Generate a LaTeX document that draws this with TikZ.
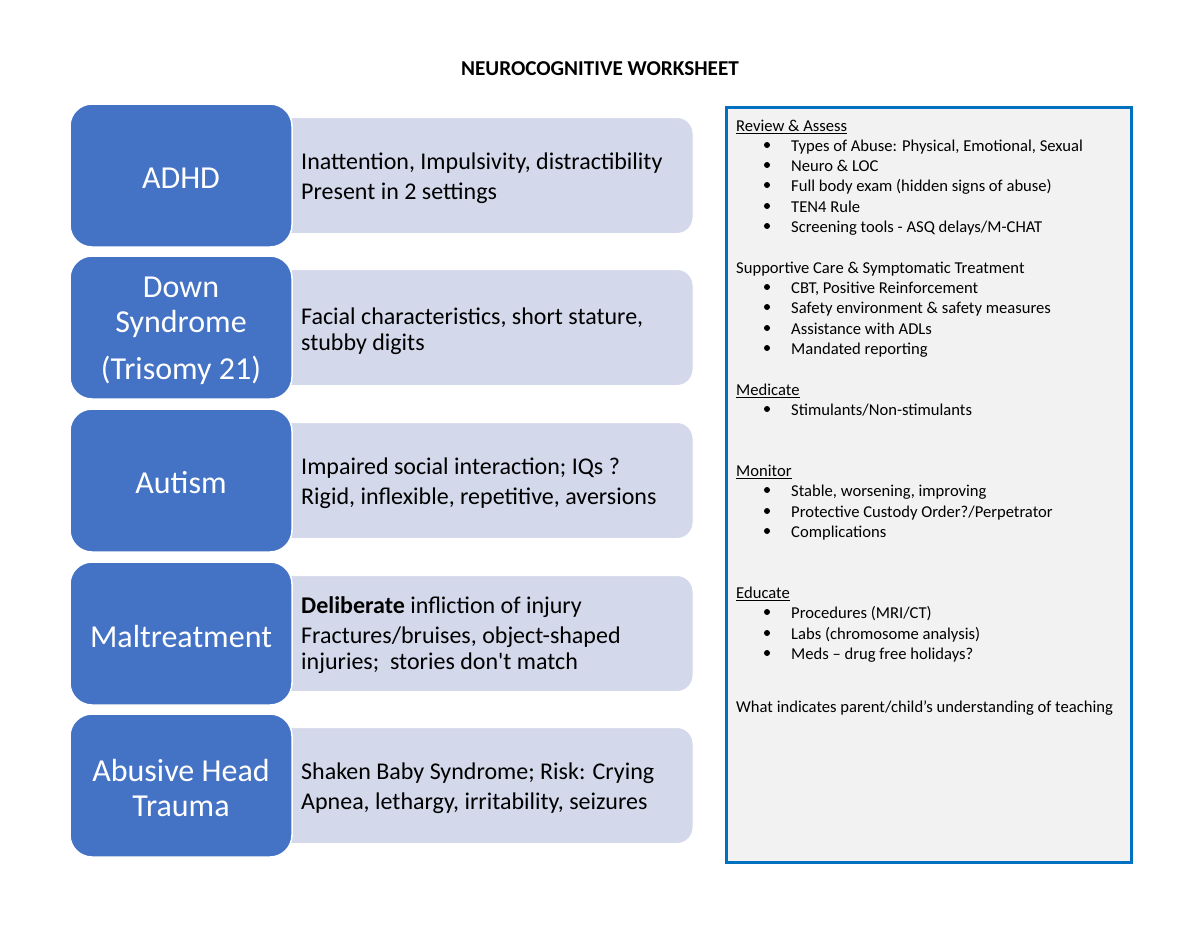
\documentclass[tikz,border=0pt]{standalone}
\usepackage{fontspec}
\setmainfont{Carlito}
\newfontfamily\plainap{Carlito}[Ligatures=TeXOff]
\definecolor{accblue}{HTML}{4472C4}
\definecolor{lightlav}{HTML}{D3D8EA}
\definecolor{panelblue}{HTML}{0070C0}
\definecolor{panelgray}{HTML}{F2F2F2}
\begin{document}
\begin{tikzpicture}[x=1pt,y=-1pt,
  catbox/.style={fill=accblue, draw=white, line width=1.5pt, rounded corners=22pt,
    minimum width=222pt, minimum height=143pt, inner sep=0pt},
  cattext/.style={text=white, align=center, font=\fontsize{32}{35}\selectfont, inner sep=0pt},
  descbox/.style={fill=lightlav, draw=white, line width=1pt, rounded corners=16pt,
    minimum width=421pt, minimum height=116pt, inner sep=0pt},
  desctext/.style={anchor=west, align=left, font=\fontsize{24}{30}\selectfont, inner sep=0pt, text=black},
  hd/.style={anchor=mid west, inner sep=0pt, font=\fontsize{16.6}{20}\selectfont},
  bul/.style={circle, fill=black, inner sep=0pt, minimum size=6pt}
]
\useasboundingbox (0,0) rectangle (1200,927);
\fill[white] (0,0) rectangle (1200,927);

\node[font=\bfseries\fontsize{21.2}{24}\selectfont, inner sep=0pt] (title) at (600,69) {NEUROCOGNITIVE WORKSHEET};

% description boxes
\node[descbox] (d1) at (482.5,175.5) {};
\node[descbox] (d2) at (482.5,327.5) {};
\node[descbox] (d3) at (482.5,480.5) {};
\node[descbox] (d4) at (482.5,633.5) {};
\node[descbox] (d5) at (482.5,785.5) {};

% category boxes
\node[catbox] (c1) at (181,175.5) {};
\node[catbox] (c2) at (181,327.5) {};
\node[catbox] (c3) at (181,480.5) {};
\node[catbox] (c4) at (181,633.5) {};
\node[catbox] (c5) at (181,785.5) {};
\node[cattext] (l1) at (c1.center) [yshift=-2.5pt] {ADHD};
\node[cattext] (l2) at (c2.center) [yshift=-3pt] {Down\\Syndrome\\[12pt](Trisomy 21)};
\node[cattext] (l3) at (c3.center) [yshift=-2.5pt] {Autism};
\node[cattext] (l4) at (c4.center) [yshift=-2.5pt] {Maltreatment};
\node[cattext] (l5) at (c5.center) [yshift=-2.5pt] {Abusive Head\\Trauma};

% description texts
\node[desctext] (t1) at (301,178) {Inattention, Impulsivity, distractibility\\Present in 2 settings};
\node[desctext] (t2) at (301,331) {Facial characteristics, short stature,\\[-4pt]stubby digits};
\node[desctext] (t3) at (301,483) {Impaired social interaction; IQs ?\\Rigid, inflexible, repetitive, aversions};
\node[desctext] (t4) at (301,635) {\textbf{Deliberate} infliction of injury\\Fractures/bruises, object-shaped\\[-4pt]injuries;\ \ stories don{\plainap'}t match};
\node[desctext] (t5) at (301,788) {Shaken Baby Syndrome; Risk: Crying\\Apnea, lethargy, irritability, seizures};

% right panel
\node[draw=panelblue, line width=3pt, fill=panelgray, minimum width=405pt, minimum height=755pt, inner sep=0pt] (panel) at (928.5,484.5) {};

\begin{scope}[yshift=-4pt]
\node[hd] (h1) at (736,125) {\underline{Review \& Assess}};
\node[hd] (i1) at (791,145) {Types of Abuse: Physical, Emotional, Sexual};
\node[hd] (i2) at (791,165) {Neuro \& LOC};
\node[hd] (i3) at (791,185) {Full body exam (hidden signs of abuse)};
\node[hd] (i4) at (791,206) {TEN4 Rule};
\node[hd] (i5) at (791,226) {Screening tools - ASQ delays/M-CHAT};
\node[hd] (h2) at (736,267) {Supportive Care \& Symptomatic Treatment};
\node[hd] (i6) at (791,287) {CBT, Positive Reinforcement};
\node[hd] (i7) at (791,307) {Safety environment \& safety measures};
\node[hd] (i8) at (791,328) {Assistance with ADLs};
\node[hd] (i9) at (791,348) {Mandated reporting};
\node[hd] (h3) at (736,389) {\underline{Medicate}};
\node[hd] (i10) at (791,409) {Stimulants/Non-stimulants};
\node[hd] (h4) at (736,470) {\underline{Monitor}};
\node[hd] (i11) at (791,490) {Stable, worsening, improving};
\node[hd] (i12) at (791,511) {Protective Custody Order?/Perpetrator};
\node[hd] (i13) at (791,531) {Complications};
\node[hd] (h5) at (736,592) {\underline{Educate}};
\node[hd] (i14) at (791,612) {Procedures (MRI/CT)};
\node[hd] (i15) at (791,633) {Labs (chromosome analysis)};
\node[hd] (i16) at (791,653) {Meds – drug free holidays?};
\node[hd] (h6) at (736,706) {What indicates parent/child’s understanding of teaching};
\end{scope}

\foreach \n/\y in {1/145,2/165,3/185,4/206,5/226,6/287,7/307,8/328,9/348,10/409,11/490,12/511,13/531,14/612,15/633,16/653}
  \node[bul] (b\n) at (767,\y) {};
\end{tikzpicture}
\end{document}
